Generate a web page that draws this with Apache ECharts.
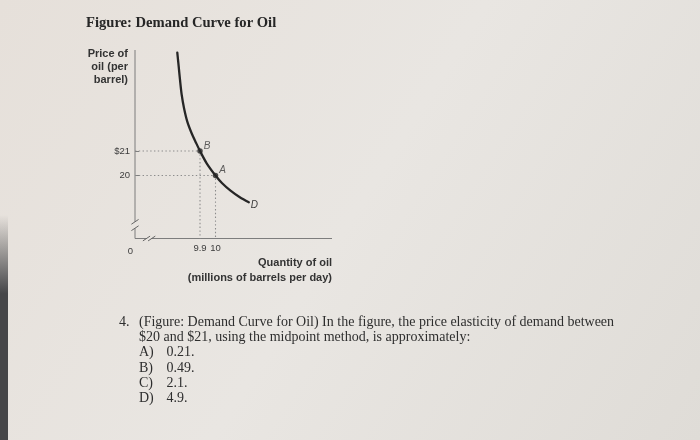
<!DOCTYPE html>
<html><head><meta charset="utf-8">
<script src="https://cdn.jsdelivr.net/npm/echarts@6/dist/echarts.min.js"></script>
<style>html,body{margin:0;padding:0;background:#e6e2dd;}#c{width:700px;height:440px;}</style>
</head><body><div id="c"></div>
<script>
// ---- data ----
const quantity = [9.7535, 9.7626, 9.771, 9.782, 9.797, 9.818, 9.846, 9.874, 9.9, 9.943, 10.0, 10.043, 10.097, 10.157, 10.215];
const price    = [25.012, 24.441, 23.898, 23.286, 22.743, 22.196, 21.722, 21.339, 21, 20.498, 20, 19.682, 19.380, 19.110, 18.906];
const pointNames = ['B', 'A'];
const pointQty   = [9.9, 10];
const pointPrice = [21, 20];
const priceTicks = [20, 21];
const priceTickLabels = ['20', '$21'];
const qtyTicks = [9.9, 10];
const qtyTickLabels = ['9.9', '10'];
const originLabel = '0';
const curveName = 'D';
const titleText = 'Figure: Demand Curve for Oil';
const yName = 'Price of\noil (per\nbarrel)';
const xName = 'Quantity of oil\n(millions of barrels per day)';
const questionNo = '4.';
const questionLines = [
  '(Figure: Demand Curve for Oil) In the figure, the price elasticity of demand between',
  '$20 and $21, using the midpoint method, is approximately:'
];
const choiceKeys = ['A)', 'B)', 'C)', 'D)'];
const choiceVals = ['0.21.', '0.49.', '2.1.', '4.9.'];

// ---- axis ranges (broken axes) ----
const X_MIN = 9.4806, X_MAX = 10.7516, Y_MIN = 17.43, Y_MAX = 25.12;
const Y_BRK_HI = 18.11, Y_BRK_LO = 17.85;
const X_BRK_LO = 9.555, X_BRK_HI = 9.588;

const chart = echarts.init(document.getElementById('c'), null, {renderer: 'canvas'});
const AXIS_C = '#7d7d7d', DOT_C = '#8c8c8c', INK = '#262626';
const sans = '"Liberation Sans", Arial, sans-serif';
const serif = '"Liberation Serif", "Times New Roman", serif';

const curve = quantity.map((q, i) => [q, price[i]]);
const pts = pointQty.map((q, i) => ({value: [q, pointPrice[i]], name: pointNames[i]}));

const axisSeg = (data) => ({type: 'line', data, symbol: 'none', silent: true, z: 1,
  lineStyle: {color: AXIS_C, width: 1}, animation: false});

const series = [
  axisSeg([[X_MIN, Y_MAX], [X_MIN, Y_BRK_HI]]),
  axisSeg([[X_MIN, Y_BRK_LO], [X_MIN, Y_MIN], [X_BRK_LO, Y_MIN]]),
  axisSeg([[X_BRK_HI, Y_MIN], [X_MAX, Y_MIN]]),
  // break marks
  {type: 'custom', silent: true, z: 2, animation: false,
   data: [[X_MIN, (Y_BRK_HI + Y_BRK_LO) / 2, 0], [(X_BRK_LO + X_BRK_HI) / 2, Y_MIN, 1]],
   renderItem: function (params, api) {
     const p = api.coord([api.value(0), api.value(1)]);
     const vertical = api.value(2) === 0;
     const children = [];
     [-1, 1].forEach(s => {
       const cx = vertical ? p[0] : p[0] + s * 2.6;
       const cy = vertical ? p[1] + s * 3.2 : p[1];
       children.push({type: 'line', shape: {x1: cx - 3.6, y1: cy + 2.4, x2: cx + 3.6, y2: cy - 2.4},
         style: {stroke: '#666', lineWidth: 1}});
     });
     return {type: 'group', children};
   }},
  // dotted guides
  ...pts.map(p => ({type: 'line', symbol: 'none', silent: true, z: 2, animation: false,
    data: [[X_MIN, p.value[1]], [p.value[0], p.value[1]], [p.value[0], Y_MIN]],
    lineStyle: {color: DOT_C, width: 1.1, type: [1.4, 2.4]}})),
  // demand curve
  {type: 'line', data: curve, smooth: 0.3, symbol: 'none', z: 3,
   animation: false, lineStyle: {color: INK, width: 2.3, cap: 'round'},
   endLabel: {show: true, formatter: curveName, fontFamily: sans, fontStyle: 'italic',
     fontSize: 10, color: '#3a3a3a', distance: 2, offset: [0, 3]}},
  // points A and B
  {type: 'scatter', data: pts, symbol: 'circle', symbolSize: 5.5, z: 4, animation: false,
   itemStyle: {color: INK},
   label: {show: true, formatter: '{b}', position: 'right', distance: 1, offset: [0, -5],
     fontFamily: sans, fontStyle: 'italic', fontSize: 10, color: '#3a3a3a'}}
];

const option = {
  animation: false,
  title: {text: titleText, left: 86, top: 16, padding: 0,
    textStyle: {fontFamily: serif, fontWeight: 'bold', fontSize: 14.6, color: '#262626'}},
  grid: {left: 135, top: 50, width: 197, height: 188.5, containLabel: false},
  xAxis: {type: 'value', min: X_MIN, max: X_MAX, splitLine: {show: false},
    axisLine: {show: false}, axisTick: {show: false},
    axisLabel: {customValues: [X_MIN].concat(qtyTicks), showMinLabel: true, margin: 5,
      fontFamily: sans, fontSize: 9.5, color: '#3c3c3c',
      formatter: v => v === X_MIN ? '{z|' + originLabel + '}' : qtyTickLabels[qtyTicks.indexOf(v)],
      rich: {z: {padding: [3, 9, 0, 0], fontFamily: sans, fontSize: 9.5, color: '#3c3c3c'}}}},
  yAxis: {type: 'value', min: Y_MIN, max: Y_MAX, splitLine: {show: false},
    axisLine: {show: false},
    axisTick: {show: true, customValues: priceTicks, inside: true, length: 4,
      lineStyle: {color: AXIS_C}},
    axisLabel: {customValues: priceTicks, margin: 5, fontFamily: sans, fontSize: 9.5,
      color: '#3c3c3c', formatter: v => priceTickLabels[priceTicks.indexOf(v)]}},
  graphic: [
    {type: 'rect', z: -100, silent: true, shape: {x: 0, y: 0, width: 700, height: 440},
     style: {fill: new echarts.graphic.LinearGradient(0, 0, 1, 1, [
       {offset: 0, color: '#e6e0da'}, {offset: 0.5, color: '#e9e6e2'}, {offset: 1, color: '#dfdcd7'}])}},
    {type: 'rect', z: -99, silent: true, shape: {x: 0, y: 215, width: 8, height: 225},
     style: {fill: new echarts.graphic.LinearGradient(0, 0, 0, 1, [
       {offset: 0, color: 'rgba(70,70,72,0)'}, {offset: 0.35, color: 'rgba(70,70,72,1)'},
       {offset: 1, color: 'rgba(70,70,72,1)'}])}},
    {type: 'text', x: 128, y: 47.5, silent: true, style: {text: yName, fontFamily: sans,
      fontWeight: 'bold', fontSize: 11, lineHeight: 13, fill: '#333', align: 'right', verticalAlign: 'top'}},
    {type: 'text', x: 332, y: 256, silent: true, style: {text: xName, fontFamily: sans,
      fontWeight: 'bold', fontSize: 11, lineHeight: 14.4, fill: '#333', align: 'right', verticalAlign: 'top'}},
    {type: 'text', x: 119, y: 314.5, silent: true, style: {text: questionNo, fontFamily: serif,
      fontSize: 14, lineHeight: 15.3, fill: '#2e2e2e', verticalAlign: 'top'}},
    {type: 'text', x: 139, y: 314.5, silent: true, style: {
      text: questionLines.join('\n') + '\n' + choiceKeys.map((k, i) => '{k|' + k + '}{v|' + choiceVals[i] + '}').join('\n'),
      fontFamily: serif, fontSize: 14, lineHeight: 15.3, fill: '#2e2e2e', verticalAlign: 'top',
      rich: {k: {width: 27.5, fontFamily: serif, fontSize: 14, lineHeight: 15.3, fill: '#2e2e2e'},
             v: {fontFamily: serif, fontSize: 14, lineHeight: 15.3, fill: '#2e2e2e'}}}}
  ],
  series
};
chart.setOption(option);
</script>
</body></html>
